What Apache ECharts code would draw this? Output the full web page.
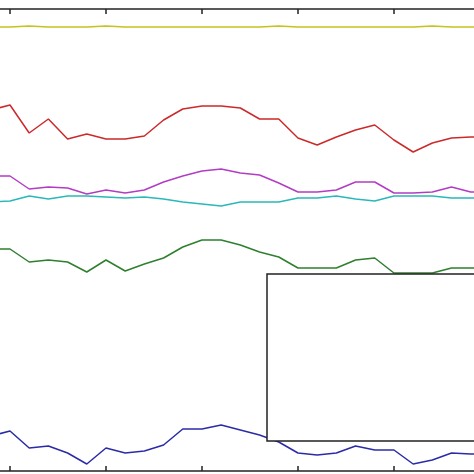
<!DOCTYPE html>
<html><head><meta charset="utf-8">
<script src="https://cdn.jsdelivr.net/npm/echarts@6/dist/echarts.min.js"></script>
<style>html,body{margin:0;padding:0;background:#fff}#c{width:474px;height:474px}</style>
</head><body><div id="c"></div>
<script>
const xs = [4,5,6,7,8,9,10,11,12,13,14,15,16,17,18,19,20,21,22,23,24,25,26,27,28,29,30];
const xTicks = [5,10,15,20,25];
const yellow = [27,27,26,27,27,27,26,27,27,27,27,27,27,27,27,26,27,27,27,27,27,27,27,26,27,27,27];
const red    = [110,105,133,119,139,134,139,139,136,120,109,106,106,108,119,119,138,145,137,130,125,140,152,143,138,137,137];
const magenta= [176,176,189,187,188,194,190,193,190,182,176,171,169,173,175,183,192,192,190,182,182,193,193,192,187,192,192];
const cyan   = [202,201,196,199,196,196,197,198,197,199,202,204,206,202,202,202,198,198,196,199,201,196,196,196,198,198,198];
const green  = [249,249,262,260,262,272,260,271,264,258,247,240,240,245,252,257,268,268,268,260,258,273,273,273,268,268,268];
const blue   = [436,431,448,446,453,464,448,453,451,445,429,429,425,430,435,442,453,455,453,446,450,450,464,460,453,454,454];
const series = [
  ['#c4c41e', yellow], ['#cc2a2a', red], ['#b33cc4', magenta],
  ['#2ab8b8', cyan], ['#2e7f2e', green], ['#2b2ba8', blue]
];
const chart = echarts.init(document.getElementById('c'));
const ax = (pos) => ({type:'value', position:pos, min:4.479, max:29.17,
  axisLine:{show:true, onZero:false, lineStyle:{color:'#222', width:1.5}},
  axisTick:{show:true, inside:true, length:5, customValues:xTicks, lineStyle:{color:'#222', width:1.5}},
  axisLabel:{show:false}, splitLine:{show:false}});
chart.setOption({
  animation:false,
  grid:{left:0, right:0, top:9, bottom:3},
  xAxis:[ax('bottom'), ax('top')],
  yAxis:{type:'value', inverse:true, min:9, max:471, show:false},
  series: series.map(([c, d]) => ({type:'line', xAxisIndex:0, symbol:'none', clip:true,
    lineStyle:{color:c, width:1.5}, data: xs.map((x,i)=>[x,d[i]])})),
  graphic:[{type:'rect', z:100, shape:{x:267, y:274, width:220, height:167},
    style:{fill:'#fff', stroke:'#222', lineWidth:1.5}}]
});
</script></body></html>
